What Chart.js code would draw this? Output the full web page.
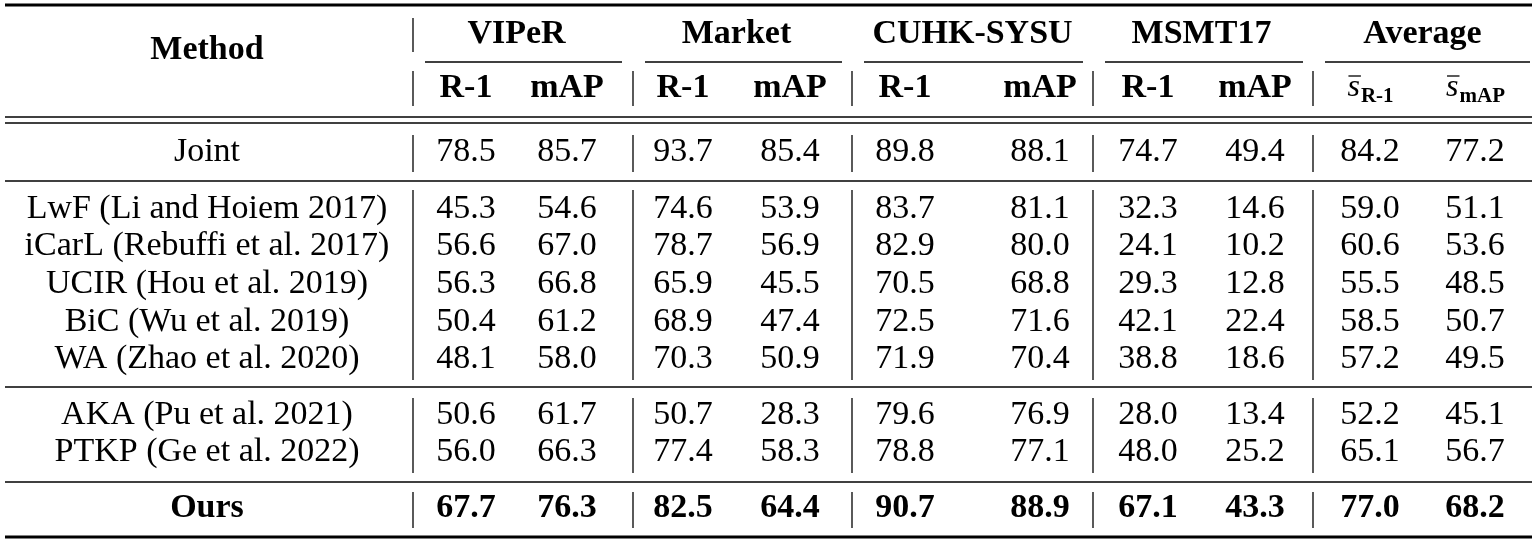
<!DOCTYPE html>
<html><head><meta charset="utf-8">
<script src="https://cdn.jsdelivr.net/npm/chart.js@4"></script>
<style>html,body{margin:0;padding:0;background:#fff}#w{width:1537px;height:543px}</style>
</head><body><div id="w"><canvas id="c"></canvas></div>
<script>
const groups = ["VIPeR","Market","CUHK-SYSU","MSMT17","Average"];
const methods = ["Joint","LwF (Li and Hoiem 2017)","iCarL (Rebuffi et al. 2017)","UCIR (Hou et al. 2019)","BiC (Wu et al. 2019)","WA (Zhao et al. 2020)","AKA (Pu et al. 2021)","PTKP (Ge et al. 2022)","Ours"];
const joint = [78.5,85.7,93.7,85.4,89.8,88.1,74.7,49.4,84.2,77.2];
const lwf   = [45.3,54.6,74.6,53.9,83.7,81.1,32.3,14.6,59.0,51.1];
const icarl = [56.6,67.0,78.7,56.9,82.9,80.0,24.1,10.2,60.6,53.6];
const ucir  = [56.3,66.8,65.9,45.5,70.5,68.8,29.3,12.8,55.5,48.5];
const bic   = [50.4,61.2,68.9,47.4,72.5,71.6,42.1,22.4,58.5,50.7];
const wa    = [48.1,58.0,70.3,50.9,71.9,70.4,38.8,18.6,57.2,49.5];
const aka   = [50.6,61.7,50.7,28.3,79.6,76.9,28.0,13.4,52.2,45.1];
const ptkp  = [56.0,66.3,77.4,58.3,78.8,77.1,48.0,25.2,65.1,56.7];
const ours  = [67.7,76.3,82.5,64.4,90.7,88.9,67.1,43.3,77.0,68.2];
const rows = [joint,lwf,icarl,ucir,bic,wa,aka,ptkp,ours];

// layout (scale units)
const colX = [207,466,567,683,790,905,1040,1148,1255,1370,1475];
const rowY = [152,209,246,284,322,359,415,452,508];
const blocks = [[135,172],[190,380],[398,473],[492,528]];
const sepX = [413,633,852,1093,1313];
const groupSpan = [[425,622],[645,842],[864,1083],[1105,1303],[1325,1530]];

const tablePlugin = {
  id:'table',
  afterDraw(ch){
    const c = ch.ctx, xs = ch.scales.x, ys = ch.scales.y;
    const X = v=>xs.getPixelForValue(v), Y = v=>ys.getPixelForValue(v);
    c.save(); c.fillStyle='#000'; c.strokeStyle='#000';
    c.textAlign='center'; c.textBaseline='middle';
    const line=(x1,y1,x2,y2,w)=>{c.lineWidth=w;c.beginPath();c.moveTo(X(x1),Y(y1));c.lineTo(X(x2),Y(y2));c.stroke();};
    line(5,5,1532,5,3);
    groupSpan.forEach(s=>line(s[0],62,s[1],62,1.3));
    line(5,117,1532,117,1.3); line(5,123,1532,123,1.3);
    line(5,181,1532,181,1.3); line(5,387,1532,387,1.3); line(5,482,1532,482,1.3);
    line(5,537,1532,537,3);
    c.font='bold 34px "Liberation Serif"';
    c.fillText('Method',X(colX[0]),Y(50));
    line(sepX[0],18,sepX[0],52,1.3);
    groups.forEach((g,i)=>c.fillText(g,(X(colX[1+2*i])+X(colX[2+2*i]))/2,Y(34)));
    for(let i=0;i<4;i++){
      c.fillText('R-1',X(colX[1+2*i]),Y(88));
      c.fillText('mAP',X(colX[2+2*i]),Y(88));
    }
    [['R-1',colX[9]],['mAP',colX[10]]].forEach(([sub,x])=>{
      c.font='italic 32px "Liberation Serif"';
      const sw=c.measureText('s').width;
      c.font='bold 21px "Liberation Serif"';
      const bw=c.measureText(sub).width;
      const x0=X(x)-(sw+bw)/2;
      c.textAlign='left';
      c.font='italic 32px "Liberation Serif"'; c.fillText('s',x0,Y(88));
      c.lineWidth=1.3;c.beginPath();c.moveTo(x0+1,Y(76));c.lineTo(x0+sw+1,Y(76));c.stroke();
      c.font='bold 21px "Liberation Serif"'; c.fillText(sub,x0+sw+1,Y(97));
      c.textAlign='center';
    });
    sepX.forEach(sx=>line(sx,71,sx,106,1.3));
    blocks.forEach(b=>sepX.forEach(sx=>line(sx,b[0],sx,b[1],1.3)));
    rows.forEach((r,ri)=>{
      const y=rowY[ri], bold = ri===rows.length-1;
      c.font=(bold?'bold ':'')+'34px "Liberation Serif"';
      c.fillText(methods[ri],X(colX[0]),Y(y));
      r.forEach((v,i)=>c.fillText(v.toFixed(1),X(colX[i+1]),Y(y)));
    });
    c.restore();
  }
};

new Chart(document.getElementById('c'),{
  type:'scatter',
  data:{datasets:[{data:[],pointRadius:0}]},
  options:{
    responsive:true,maintainAspectRatio:false,animation:false,
    layout:{padding:0},
    plugins:{legend:{display:false},tooltip:{enabled:false}},
    scales:{
      x:{type:'linear',min:0,max:1537,display:false},
      y:{type:'linear',min:0,max:543,reverse:true,display:false}
    }
  },
  plugins:[tablePlugin]
});
</script></body></html>
